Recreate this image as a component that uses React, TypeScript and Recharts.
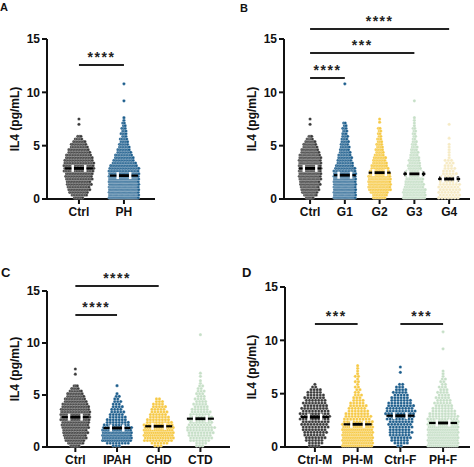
import React from 'react';
import { ScatterChart, Scatter, XAxis, YAxis, ReferenceLine, ErrorBar } from 'recharts';

const FONT = '"Liberation Sans", Arial, Helvetica, sans-serif';
const INK = '#111111';

// Readings are grouped in 0.25 pg/mL rows: counts[i] readings sit at row i,
// plus a few isolated high readings listed separately.
const STEP = 0.25;

const ctrlMCounts = [4, 5, 6, 7, 7, 8, 8, 9, 9, 9, 10, 10, 10, 9, 9, 8, 8, 7, 7, 6, 5, 4, 2, 1];
const ctrlMHigh: number[] = [];
const ctrlFCounts = [2, 5, 6, 7, 7, 8, 7, 8, 8, 8, 9, 9, 10, 10, 9, 9, 8, 7, 6, 5, 5, 4, 3, 2];
const ctrlFHigh = [7.0, 7.5];
const phMCounts = [16, 17, 17, 17, 17, 16, 16, 15, 12, 10, 9, 9, 8, 7, 6, 6, 5, 4, 3, 3, 2, 2, 2, 1, 2, 1, 2, 1, 1, 1, 1];
const phMHigh: number[] = [];
const phFCounts = [16, 18, 18, 18, 18, 17, 17, 16, 15, 13, 11, 10, 9, 8, 7, 6, 6, 5, 5, 4, 4, 3, 3, 2, 2, 2, 1, 1, 1];
const phFHigh = [9.2, 10.8];

const g1Counts = [25, 25, 25, 25, 25, 25, 25, 24, 22, 18, 15, 13, 11, 10, 9, 9, 8, 7, 6, 6, 5, 5, 4, 4, 3, 3, 3, 2, 2];
const g1High = [10.8];
const g2Counts = [8, 9, 11, 14, 16, 16, 17, 17, 16, 13, 12, 11, 10, 9, 8, 8, 6, 5, 5, 4, 4, 3, 3, 2, 2, 2, 2];
const g2High = [7.2, 7.5];
const g3Counts = [16, 16, 15, 15, 12, 12, 11, 11, 10, 10, 10, 8, 8, 7, 7, 6, 5, 5, 4, 4, 3, 3, 2, 2, 2, 2, 2, 1, 1, 1, 1];
const g3High = [9.2];
const g4Counts = [7, 7, 7, 7, 7, 7, 6, 6, 5, 5, 4, 4, 3, 3, 3, 1, 1, 1, 1, 1, 1];
const g4High = [5.7, 7.0];

const ipahCounts = [3, 8, 17, 19, 21, 21, 19, 14, 9, 8, 7, 6, 5, 5, 4, 4, 3, 3, 2, 2, 1];
const ipahHigh = [5.9];
const chdCounts = [3, 6, 10, 12, 14, 14, 14, 13, 12, 9, 8, 7, 6, 6, 5, 5, 4, 3, 2];
const chdHigh: number[] = [];
const ctdCounts = [3, 4, 7, 8, 8, 9, 9, 10, 8, 8, 8, 8, 7, 7, 6, 5, 5, 4, 4, 3, 3, 3, 2, 2, 1, 1];
const ctdHigh = [6.8, 7.1, 10.8];

const yTicks = [0, 5, 10, 15];

const COLORS = {
  ctrl: '#3a3a3a',
  blue: '#1d5e8d',
  yellow: '#f6c945',
  green: '#c6dfc7',
  cream: '#f6eac4',
};

function expand(counts: number[], high: number[]): number[] {
  const out: number[] = [];
  counts.forEach((c, i) => {
    for (let k = 0; k < c; k++) out.push((i + 0.5) * STEP);
  });
  return out.concat(high);
}

const ctrlM = expand(ctrlMCounts, ctrlMHigh);
const ctrlF = expand(ctrlFCounts, ctrlFHigh);
const phM = expand(phMCounts, phMHigh);
const phF = expand(phFCounts, phFHigh);
const ctrlAll = ctrlM.concat(ctrlF);
const phAll = phM.concat(phF);
const g1 = expand(g1Counts, g1High);
const g2 = expand(g2Counts, g2High);
const g3 = expand(g3Counts, g3High);
const g4 = expand(g4Counts, g4High);
const ipah = expand(ipahCounts, ipahHigh);
const chd = expand(chdCounts, chdHigh);
const ctd = expand(ctdCounts, ctdHigh);

type Pt = { x: number; y: number; dx: number };

// Spread readings that share a row sideways (pixel offsets), centred on the group.
function swarm(values: number[], index: number, spacing: number, maxWidth: number): Pt[] {
  const rows = new Map<number, number>();
  values.forEach((v) => rows.set(v, (rows.get(v) || 0) + 1));
  const keys = Array.from(rows.keys()).sort((a, b) => a - b);
  const pts: Pt[] = [];
  keys.forEach((v, r) => {
    const n = rows.get(v) as number;
    const s = n > 1 ? Math.min(spacing, maxWidth / (n - 1)) : 0;
    const shift = n > 1 ? (r % 2 === 0 ? -s / 4 : s / 4) : 0;
    for (let k = 0; k < n; k++) pts.push({ x: index, y: v, dx: (k - (n - 1) / 2) * s + shift });
  });
  return pts;
}

function stats(values: number[]) {
  const n = values.length;
  const mean = values.reduce((a, b) => a + b, 0) / n;
  const sd = Math.sqrt(values.reduce((a, b) => a + (b - mean) * (b - mean), 0) / (n - 1));
  return { mean, sem: sd / Math.sqrt(n) };
}

type GroupDraw = { name: string; values: number[]; color: string; spacing: number };
type Bracket = { from: number; to: number; y: number; stars: string };
type PanelDef = {
  letter: string;
  left: number;
  top: number;
  height: number;
  marginTop: number;
  marginRight: number;
  yWidth: number;
  xHeight: number;
  xDomain: [number, number];
  maxWidth: number;
  meanWidth: number;
  letterX: number;
  letterY: number;
  letterSize: number;
  groups: GroupDraw[];
  brackets: Bracket[];
};

const panels: PanelDef[] = [
  {
    letter: 'A', left: 0, top: 0, height: 230, marginTop: 39, marginRight: 82, yWidth: 47, xHeight: 31,
    xDomain: [-0.71, 1.69], maxWidth: 29, meanWidth: 28, letterX: 0, letterY: 11, letterSize: 11,
    groups: [
      { name: 'Ctrl', values: ctrlAll, color: COLORS.ctrl, spacing: 1.6 },
      { name: 'PH', values: phAll, color: COLORS.blue, spacing: 1.6 },
    ],
    brackets: [{ from: 0, to: 1, y: 12.56, stars: '****' }],
  },
  {
    letter: 'B', left: 237, top: 0, height: 230, marginTop: 39, marginRight: 4, yWidth: 47, xHeight: 31,
    xDomain: [-0.75, 4.6], maxWidth: 21, meanWidth: 22, letterX: 3, letterY: 12, letterSize: 11,
    groups: [
      { name: 'Ctrl', values: ctrlAll, color: COLORS.ctrl, spacing: 1.3 },
      { name: 'G1', values: g1, color: COLORS.blue, spacing: 1.6 },
      { name: 'G2', values: g2, color: COLORS.yellow, spacing: 1.6 },
      { name: 'G3', values: g3, color: COLORS.green, spacing: 1.6 },
      { name: 'G4', values: g4, color: COLORS.cream, spacing: 3.2 },
    ],
    brackets: [
      { from: 0, to: 4, y: 15.94, stars: '****' },
      { from: 0, to: 3, y: 13.69, stars: '***' },
      { from: 0, to: 1, y: 11.34, stars: '****' },
    ],
  },
  {
    letter: 'C', left: 0, top: 230, height: 237, marginTop: 61, marginRight: 7, yWidth: 47, xHeight: 20,
    xDomain: [-0.68, 3.71], maxWidth: 28, meanWidth: 27, letterX: 1, letterY: 47, letterSize: 13,
    groups: [
      { name: 'Ctrl', values: ctrlAll, color: COLORS.ctrl, spacing: 1.6 },
      { name: 'IPAH', values: ipah, color: COLORS.blue, spacing: 3.0 },
      { name: 'CHD', values: chd, color: COLORS.yellow, spacing: 3.0 },
      { name: 'CTD', values: ctd, color: COLORS.green, spacing: 3.0 },
    ],
    brackets: [
      { from: 0, to: 2, y: 15.48, stars: '****' },
      { from: 0, to: 1, y: 12.69, stars: '****' },
    ],
  },
  {
    letter: 'D', left: 237, top: 230, height: 237, marginTop: 57, marginRight: 4, yWidth: 48, xHeight: 20,
    xDomain: [-0.7, 3.63], maxWidth: 29, meanWidth: 28, letterX: 5, letterY: 47, letterSize: 13,
    groups: [
      { name: 'Ctrl-M', values: ctrlM, color: COLORS.ctrl, spacing: 3.1 },
      { name: 'PH-M', values: phM, color: COLORS.yellow, spacing: 3.1 },
      { name: 'Ctrl-F', values: ctrlF, color: COLORS.blue, spacing: 3.1 },
      { name: 'PH-F', values: phF, color: COLORS.green, spacing: 3.1 },
    ],
    brackets: [
      { from: 0, to: 1, y: 11.53, stars: '***' },
      { from: 2, to: 3, y: 11.53, stars: '***' },
    ],
  },
];

const makeDot = (color: string) => (p: any) => {
  if (p == null || p.cx == null || p.cy == null) return <g />;
  return (
    <circle
      cx={p.cx + (p.payload?.dx ?? 0)}
      cy={p.cy}
      r={1.6}
      fill={color}
      stroke="#ffffff"
      strokeWidth={0.35}
      strokeOpacity={0.75}
    />
  );
};

// Mean line, with small white gaps on either side of the central SEM box
const makeMeanMark = (w: number) => (p: any) => {
  if (p == null || p.cx == null || p.cy == null) return <g />;
  const { cx, cy } = p;
  return (
    <g>
      <rect x={cx - 7.5} y={cy - 3.5} width={2.5} height={7} fill="#ffffff" />
      <rect x={cx + 5} y={cy - 3.5} width={2.5} height={7} fill="#ffffff" />
      <line x1={cx - w / 2} x2={cx - 7.5} y1={cy} y2={cy} stroke="#000" strokeWidth={2.2} />
      <line x1={cx + 7.5} x2={cx + w / 2} y1={cy} y2={cy} stroke="#000" strokeWidth={2.2} />
      <line x1={cx - 5} x2={cx + 5} y1={cy} y2={cy} stroke="#000" strokeWidth={2.8} />
    </g>
  );
};

function Panel({ def }: { def: PanelDef }) {
  const width = 237;
  const plotTop = def.marginTop;
  const plotH = def.height - def.marginTop - def.xHeight;
  const meanData = def.groups.map((g, i) => {
    const s = stats(g.values);
    return { x: i, y: s.mean, sem: s.sem };
  });
  const tickStyle = { fill: INK, fontSize: 12, fontWeight: 700, fontFamily: FONT };
  return (
    <div style={{ position: 'absolute', left: def.left, top: def.top, width, height: def.height }}>
      <ScatterChart
        width={width}
        height={def.height}
        margin={{ top: def.marginTop, right: def.marginRight, bottom: 0, left: 0 }}
      >
        <XAxis
          type="number"
          dataKey="x"
          domain={def.xDomain}
          ticks={def.groups.map((_, i) => i)}
          tickFormatter={(i: number) => (def.groups[i] ? def.groups[i].name : '')}
          interval={0}
          height={def.xHeight}
          axisLine={{ stroke: INK, strokeWidth: 2 }}
          tickLine={{ stroke: INK, strokeWidth: 2 }}
          tickSize={5}
          tickMargin={3}
          tick={tickStyle}
        />
        <YAxis
          type="number"
          dataKey="y"
          domain={[0, 15]}
          ticks={yTicks}
          interval={0}
          width={def.yWidth}
          axisLine={{ stroke: INK, strokeWidth: 2 }}
          tickLine={{ stroke: INK, strokeWidth: 2 }}
          tickSize={5}
          tickMargin={2}
          tick={tickStyle}
        />
        {def.groups.map((g, i) => (
          <Scatter
            key={g.name}
            name={g.name}
            data={swarm(g.values, i, g.spacing, def.maxWidth)}
            shape={makeDot(g.color)}
            fill={g.color}
            isAnimationActive={false}
          />
        ))}
        <Scatter name="mean" data={meanData} shape={makeMeanMark(def.meanWidth)} fill="#000" isAnimationActive={false}>
          <ErrorBar dataKey="sem" direction="y" width={10} stroke="#000" strokeWidth={2} isAnimationActive={false} />
        </Scatter>
        {def.brackets.map((b, k) => (
          <ReferenceLine
            key={k}
            segment={[{ x: b.from, y: b.y }, { x: b.to, y: b.y }]}
            ifOverflow="visible"
            stroke="#222"
            strokeWidth={2}
            label={{
              value: b.stars,
              position: 'top',
              offset: 3,
              fill: '#222',
              fontSize: 14,
              fontWeight: 700,
              fontFamily: FONT,
              letterSpacing: 1.5,
            }}
          />
        ))}
      </ScatterChart>
      <svg
        width={width}
        height={def.height}
        style={{ position: 'absolute', left: 0, top: 0, pointerEvents: 'none' }}
      >
        <text
          x={def.letterX}
          y={def.letterY}
          fontFamily={FONT}
          fontWeight={700}
          fontSize={def.letterSize}
          fill={INK}
        >
          {def.letter}
        </text>
        <text
          x={15}
          y={plotTop + plotH / 2}
          transform={`rotate(-90, 15, ${plotTop + plotH / 2})`}
          textAnchor="middle"
          dominantBaseline="central"
          fontFamily={FONT}
          fontWeight={700}
          fontSize={12}
          fill={INK}
        >
          IL4 (pg/mL)
        </text>
      </svg>
    </div>
  );
}

export default function App() {
  return (
    <div style={{ position: 'absolute', left: 0, top: 0, width: 474, height: 467, background: '#fff', overflow: 'hidden' }}>
      {panels.map((p) => (
        <Panel key={p.letter} def={p} />
      ))}
    </div>
  );
}
